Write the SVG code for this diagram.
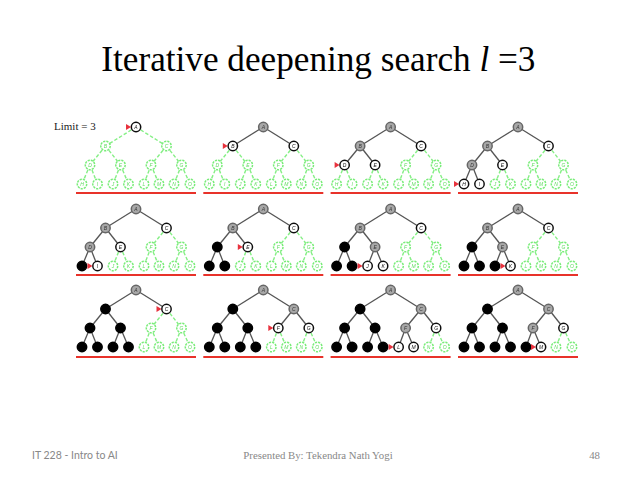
<svg xmlns="http://www.w3.org/2000/svg" width="638" height="478" viewBox="0 0 638 478">
<style>
.bg{fill:#fff}
.title{font:35.2px "Liberation Serif",serif;fill:#000}
.lim{font:11px "Liberation Serif",serif;fill:#222}
.fl{font:10.5px Lato,"Liberation Sans",sans-serif;fill:#888}
.fs{font:10.8px "Liberation Serif",serif;fill:#888}
.tree{filter:url(#soft)}
.tree text{font:italic 5px "Liberation Sans",sans-serif;text-anchor:middle}
.tree circle{stroke-width:1.5;r:4.7px}
.f circle{fill:#fff;stroke:#111}.f text{fill:#111}
.g circle{fill:#a8a8a8;stroke:#666}.g text{fill:#333}
.x circle{fill:#000;stroke:#000}
.u circle{fill:#fff;stroke:#79ec79;stroke-dasharray:2.2 1}.u text{fill:#5fdc5f}
.s{stroke:#555;stroke-width:1.3;fill:none}
.d{stroke:#85ef85;stroke-width:1.4;stroke-dasharray:3.5 2;fill:none}
.floor{stroke:#e8302c;stroke-width:1.8}
.pt{fill:#e8303c}
</style>
<defs>
<filter id="soft" x="-5%" y="-5%" width="110%" height="110%"><feGaussianBlur stdDeviation="0.4"/></filter>
<line id="AB" x2="-30.5" y2="19"/><line id="AC" x2="30.5" y2="19"/>
<line id="BD" x1="-30.5" y1="19" x2="-46" y2="38"/><line id="BE" x1="-30.5" y1="19" x2="-15.5" y2="38"/>
<line id="CF" x1="30.5" y1="19" x2="15" y2="38"/><line id="CG" x1="30.5" y1="19" x2="45.5" y2="38"/>
<line id="DH" x1="-46" y1="38" x2="-54" y2="57"/><line id="DI" x1="-46" y1="38" x2="-38.5" y2="57"/>
<line id="EJ" x1="-15.5" y1="38" x2="-23" y2="57"/><line id="EK" x1="-15.5" y1="38" x2="-7.5" y2="57"/>
<line id="FL" x1="15" y1="38" x2="8" y2="57"/><line id="FM" x1="15" y1="38" x2="23" y2="57"/>
<line id="GN" x1="45.5" y1="38" x2="38" y2="57"/><line id="GO" x1="45.5" y1="38" x2="54" y2="57"/>
<path id="pt" class="pt" d="M-10 -3L-5 0L-10 3Z"/>
</defs>
<rect class="bg" width="638" height="478"/>
<text class="title" x="318.4" y="71" text-anchor="middle">Iterative deepening search <tspan font-style="italic">l</tspan> =3</text>
<text class="lim" x="54" y="130">Limit = 3</text>

<g id="p1" class="tree" transform="translate(136 127)">
<g id="e1"><use href="#AB" class="d"/><use href="#AC" class="d"/><use href="#BD" class="d"/><use href="#BE" class="d"/><use href="#CF" class="d"/><use href="#CG" class="d"/><use href="#DH" class="d"/><use href="#DI" class="d"/><use href="#EJ" class="d"/><use href="#EK" class="d"/><use href="#FL" class="d"/><use href="#FM" class="d"/><use href="#GN" class="d"/><use href="#GO" class="d"/></g>
<g id="p1A" class="f"><circle r="4.5"/><text y="1.6">A</text><use href="#pt"/></g>
<g id="p1B" class="u" transform="translate(-30.5 19)"><circle r="4.5"/><text y="1.6">B</text></g>
<g id="p1C" class="u" transform="translate(30.5 19)"><circle r="4.5"/><text y="1.6">C</text></g>
<g id="p1D" class="u" transform="translate(-46 38)"><circle r="4.5"/><text y="1.6">D</text></g>
<g id="p1E" class="u" transform="translate(-15.5 38)"><circle r="4.5"/><text y="1.6">E</text></g>
<g id="p1F" class="u" transform="translate(15 38)"><circle r="4.5"/><text y="1.6">F</text></g>
<g id="p1G" class="u" transform="translate(45.5 38)"><circle r="4.5"/><text y="1.6">G</text></g>
<g id="p1H" class="u" transform="translate(-54 57)"><circle r="4.5"/><text y="1.6">H</text></g>
<g id="p1I" class="u" transform="translate(-38.5 57)"><circle r="4.5"/><text y="1.6">I</text></g>
<g id="p1J" class="u" transform="translate(-23 57)"><circle r="4.5"/><text y="1.6">J</text></g>
<g id="p1K" class="u" transform="translate(-7.5 57)"><circle r="4.5"/><text y="1.6">K</text></g>
<g id="p1L" class="u" transform="translate(8 57)"><circle r="4.5"/><text y="1.6">L</text></g>
<g id="p1M" class="u" transform="translate(23 57)"><circle r="4.5"/><text y="1.6">M</text></g>
<g id="p1N" class="u" transform="translate(38 57)"><circle r="4.5"/><text y="1.6">N</text></g>
<g id="p1O" class="u" transform="translate(54 57)"><circle r="4.5"/><text y="1.6">O</text></g>
<line class="floor" x1="-60" y1="66" x2="60" y2="66"/>
</g>

<g id="p2" class="tree" transform="translate(263.3 127)">
<g id="e2"><use href="#AB" class="s"/><use href="#AC" class="s"/><use href="#BD" class="d"/><use href="#BE" class="d"/><use href="#CF" class="d"/><use href="#CG" class="d"/><use href="#DH" class="d"/><use href="#DI" class="d"/><use href="#EJ" class="d"/><use href="#EK" class="d"/><use href="#FL" class="d"/><use href="#FM" class="d"/><use href="#GN" class="d"/><use href="#GO" class="d"/></g>
<g id="p2A" class="g"><circle r="4.5"/><text y="1.6">A</text></g>
<g id="p2B" class="f" transform="translate(-30.5 19)"><circle r="4.5"/><text y="1.6">B</text><use href="#pt"/></g>
<g id="p2C" class="f" transform="translate(30.5 19)"><circle r="4.5"/><text y="1.6">C</text></g>
<g id="p2D" class="u" transform="translate(-46 38)"><circle r="4.5"/><text y="1.6">D</text></g>
<g id="p2E" class="u" transform="translate(-15.5 38)"><circle r="4.5"/><text y="1.6">E</text></g>
<g id="p2F" class="u" transform="translate(15 38)"><circle r="4.5"/><text y="1.6">F</text></g>
<g id="p2G" class="u" transform="translate(45.5 38)"><circle r="4.5"/><text y="1.6">G</text></g>
<g id="p2H" class="u" transform="translate(-54 57)"><circle r="4.5"/><text y="1.6">H</text></g>
<g id="p2I" class="u" transform="translate(-38.5 57)"><circle r="4.5"/><text y="1.6">I</text></g>
<g id="p2J" class="u" transform="translate(-23 57)"><circle r="4.5"/><text y="1.6">J</text></g>
<g id="p2K" class="u" transform="translate(-7.5 57)"><circle r="4.5"/><text y="1.6">K</text></g>
<g id="p2L" class="u" transform="translate(8 57)"><circle r="4.5"/><text y="1.6">L</text></g>
<g id="p2M" class="u" transform="translate(23 57)"><circle r="4.5"/><text y="1.6">M</text></g>
<g id="p2N" class="u" transform="translate(38 57)"><circle r="4.5"/><text y="1.6">N</text></g>
<g id="p2O" class="u" transform="translate(54 57)"><circle r="4.5"/><text y="1.6">O</text></g>
<line class="floor" x1="-60" y1="66" x2="60" y2="66"/>
</g>

<g id="p3" class="tree" transform="translate(390.6 127)">
<g id="e3"><use href="#AB" class="s"/><use href="#AC" class="s"/><use href="#BD" class="s"/><use href="#BE" class="s"/><use href="#CF" class="d"/><use href="#CG" class="d"/><use href="#DH" class="d"/><use href="#DI" class="d"/><use href="#EJ" class="d"/><use href="#EK" class="d"/><use href="#FL" class="d"/><use href="#FM" class="d"/><use href="#GN" class="d"/><use href="#GO" class="d"/></g>
<g id="p3A" class="g"><circle r="4.5"/><text y="1.6">A</text></g>
<g id="p3B" class="g" transform="translate(-30.5 19)"><circle r="4.5"/><text y="1.6">B</text></g>
<g id="p3C" class="f" transform="translate(30.5 19)"><circle r="4.5"/><text y="1.6">C</text></g>
<g id="p3D" class="f" transform="translate(-46 38)"><circle r="4.5"/><text y="1.6">D</text><use href="#pt"/></g>
<g id="p3E" class="f" transform="translate(-15.5 38)"><circle r="4.5"/><text y="1.6">E</text></g>
<g id="p3F" class="u" transform="translate(15 38)"><circle r="4.5"/><text y="1.6">F</text></g>
<g id="p3G" class="u" transform="translate(45.5 38)"><circle r="4.5"/><text y="1.6">G</text></g>
<g id="p3H" class="u" transform="translate(-54 57)"><circle r="4.5"/><text y="1.6">H</text></g>
<g id="p3I" class="u" transform="translate(-38.5 57)"><circle r="4.5"/><text y="1.6">I</text></g>
<g id="p3J" class="u" transform="translate(-23 57)"><circle r="4.5"/><text y="1.6">J</text></g>
<g id="p3K" class="u" transform="translate(-7.5 57)"><circle r="4.5"/><text y="1.6">K</text></g>
<g id="p3L" class="u" transform="translate(8 57)"><circle r="4.5"/><text y="1.6">L</text></g>
<g id="p3M" class="u" transform="translate(23 57)"><circle r="4.5"/><text y="1.6">M</text></g>
<g id="p3N" class="u" transform="translate(38 57)"><circle r="4.5"/><text y="1.6">N</text></g>
<g id="p3O" class="u" transform="translate(54 57)"><circle r="4.5"/><text y="1.6">O</text></g>
<line class="floor" x1="-60" y1="66" x2="60" y2="66"/>
</g>

<g id="p4" class="tree" transform="translate(518 127)">
<g id="e4"><use href="#AB" class="s"/><use href="#AC" class="s"/><use href="#BD" class="s"/><use href="#BE" class="s"/><use href="#CF" class="d"/><use href="#CG" class="d"/><use href="#DH" class="s"/><use href="#DI" class="s"/><use href="#EJ" class="d"/><use href="#EK" class="d"/><use href="#FL" class="d"/><use href="#FM" class="d"/><use href="#GN" class="d"/><use href="#GO" class="d"/></g>
<g id="p4A" class="g"><circle r="4.5"/><text y="1.6">A</text></g>
<g id="p4B" class="g" transform="translate(-30.5 19)"><circle r="4.5"/><text y="1.6">B</text></g>
<g id="p4C" class="f" transform="translate(30.5 19)"><circle r="4.5"/><text y="1.6">C</text></g>
<g id="p4D" class="g" transform="translate(-46 38)"><circle r="4.5"/><text y="1.6">D</text></g>
<g id="p4E" class="f" transform="translate(-15.5 38)"><circle r="4.5"/><text y="1.6">E</text></g>
<g id="p4F" class="u" transform="translate(15 38)"><circle r="4.5"/><text y="1.6">F</text></g>
<g id="p4G" class="u" transform="translate(45.5 38)"><circle r="4.5"/><text y="1.6">G</text></g>
<g id="p4H" class="f" transform="translate(-54 57)"><circle r="4.5"/><text y="1.6">H</text><use href="#pt"/></g>
<g id="p4I" class="f" transform="translate(-38.5 57)"><circle r="4.5"/><text y="1.6">I</text></g>
<g id="p4J" class="u" transform="translate(-23 57)"><circle r="4.5"/><text y="1.6">J</text></g>
<g id="p4K" class="u" transform="translate(-7.5 57)"><circle r="4.5"/><text y="1.6">K</text></g>
<g id="p4L" class="u" transform="translate(8 57)"><circle r="4.5"/><text y="1.6">L</text></g>
<g id="p4M" class="u" transform="translate(23 57)"><circle r="4.5"/><text y="1.6">M</text></g>
<g id="p4N" class="u" transform="translate(38 57)"><circle r="4.5"/><text y="1.6">N</text></g>
<g id="p4O" class="u" transform="translate(54 57)"><circle r="4.5"/><text y="1.6">O</text></g>
<line class="floor" x1="-60" y1="66" x2="60" y2="66"/>
</g>

<g id="p5" class="tree" transform="translate(136 209)">
<g id="e5"><use href="#AB" class="s"/><use href="#AC" class="s"/><use href="#BD" class="s"/><use href="#BE" class="s"/><use href="#CF" class="d"/><use href="#CG" class="d"/><use href="#DH" class="s"/><use href="#DI" class="s"/><use href="#EJ" class="d"/><use href="#EK" class="d"/><use href="#FL" class="d"/><use href="#FM" class="d"/><use href="#GN" class="d"/><use href="#GO" class="d"/></g>
<g id="p5A" class="g"><circle r="4.5"/><text y="1.6">A</text></g>
<g id="p5B" class="g" transform="translate(-30.5 19)"><circle r="4.5"/><text y="1.6">B</text></g>
<g id="p5C" class="f" transform="translate(30.5 19)"><circle r="4.5"/><text y="1.6">C</text></g>
<g id="p5D" class="g" transform="translate(-46 38)"><circle r="4.5"/><text y="1.6">D</text></g>
<g id="p5E" class="f" transform="translate(-15.5 38)"><circle r="4.5"/><text y="1.6">E</text></g>
<g id="p5F" class="u" transform="translate(15 38)"><circle r="4.5"/><text y="1.6">F</text></g>
<g id="p5G" class="u" transform="translate(45.5 38)"><circle r="4.5"/><text y="1.6">G</text></g>
<g id="p5H" class="x" transform="translate(-54 57)"><circle r="4.5"/></g>
<g id="p5I" class="f" transform="translate(-38.5 57)"><circle r="4.5"/><text y="1.6">I</text><use href="#pt"/></g>
<g id="p5J" class="u" transform="translate(-23 57)"><circle r="4.5"/><text y="1.6">J</text></g>
<g id="p5K" class="u" transform="translate(-7.5 57)"><circle r="4.5"/><text y="1.6">K</text></g>
<g id="p5L" class="u" transform="translate(8 57)"><circle r="4.5"/><text y="1.6">L</text></g>
<g id="p5M" class="u" transform="translate(23 57)"><circle r="4.5"/><text y="1.6">M</text></g>
<g id="p5N" class="u" transform="translate(38 57)"><circle r="4.5"/><text y="1.6">N</text></g>
<g id="p5O" class="u" transform="translate(54 57)"><circle r="4.5"/><text y="1.6">O</text></g>
<line class="floor" x1="-60" y1="66" x2="60" y2="66"/>
</g>

<g id="p6" class="tree" transform="translate(263.3 209)">
<g id="e6"><use href="#AB" class="s"/><use href="#AC" class="s"/><use href="#BD" class="s"/><use href="#BE" class="s"/><use href="#CF" class="d"/><use href="#CG" class="d"/><use href="#DH" class="s"/><use href="#DI" class="s"/><use href="#EJ" class="d"/><use href="#EK" class="d"/><use href="#FL" class="d"/><use href="#FM" class="d"/><use href="#GN" class="d"/><use href="#GO" class="d"/></g>
<g id="p6A" class="g"><circle r="4.5"/><text y="1.6">A</text></g>
<g id="p6B" class="g" transform="translate(-30.5 19)"><circle r="4.5"/><text y="1.6">B</text></g>
<g id="p6C" class="f" transform="translate(30.5 19)"><circle r="4.5"/><text y="1.6">C</text></g>
<g id="p6D" class="x" transform="translate(-46 38)"><circle r="4.5"/></g>
<g id="p6E" class="f" transform="translate(-15.5 38)"><circle r="4.5"/><text y="1.6">E</text><use href="#pt"/></g>
<g id="p6F" class="u" transform="translate(15 38)"><circle r="4.5"/><text y="1.6">F</text></g>
<g id="p6G" class="u" transform="translate(45.5 38)"><circle r="4.5"/><text y="1.6">G</text></g>
<g id="p6H" class="x" transform="translate(-54 57)"><circle r="4.5"/></g>
<g id="p6I" class="x" transform="translate(-38.5 57)"><circle r="4.5"/></g>
<g id="p6J" class="u" transform="translate(-23 57)"><circle r="4.5"/><text y="1.6">J</text></g>
<g id="p6K" class="u" transform="translate(-7.5 57)"><circle r="4.5"/><text y="1.6">K</text></g>
<g id="p6L" class="u" transform="translate(8 57)"><circle r="4.5"/><text y="1.6">L</text></g>
<g id="p6M" class="u" transform="translate(23 57)"><circle r="4.5"/><text y="1.6">M</text></g>
<g id="p6N" class="u" transform="translate(38 57)"><circle r="4.5"/><text y="1.6">N</text></g>
<g id="p6O" class="u" transform="translate(54 57)"><circle r="4.5"/><text y="1.6">O</text></g>
<line class="floor" x1="-60" y1="66" x2="60" y2="66"/>
</g>

<g id="p7" class="tree" transform="translate(390.6 209)">
<g id="e7"><use href="#AB" class="s"/><use href="#AC" class="s"/><use href="#BD" class="s"/><use href="#BE" class="s"/><use href="#CF" class="d"/><use href="#CG" class="d"/><use href="#DH" class="s"/><use href="#DI" class="s"/><use href="#EJ" class="s"/><use href="#EK" class="s"/><use href="#FL" class="d"/><use href="#FM" class="d"/><use href="#GN" class="d"/><use href="#GO" class="d"/></g>
<g id="p7A" class="g"><circle r="4.5"/><text y="1.6">A</text></g>
<g id="p7B" class="g" transform="translate(-30.5 19)"><circle r="4.5"/><text y="1.6">B</text></g>
<g id="p7C" class="f" transform="translate(30.5 19)"><circle r="4.5"/><text y="1.6">C</text></g>
<g id="p7D" class="x" transform="translate(-46 38)"><circle r="4.5"/></g>
<g id="p7E" class="g" transform="translate(-15.5 38)"><circle r="4.5"/><text y="1.6">E</text></g>
<g id="p7F" class="u" transform="translate(15 38)"><circle r="4.5"/><text y="1.6">F</text></g>
<g id="p7G" class="u" transform="translate(45.5 38)"><circle r="4.5"/><text y="1.6">G</text></g>
<g id="p7H" class="x" transform="translate(-54 57)"><circle r="4.5"/></g>
<g id="p7I" class="x" transform="translate(-38.5 57)"><circle r="4.5"/></g>
<g id="p7J" class="f" transform="translate(-23 57)"><circle r="4.5"/><text y="1.6">J</text><use href="#pt"/></g>
<g id="p7K" class="f" transform="translate(-7.5 57)"><circle r="4.5"/><text y="1.6">K</text></g>
<g id="p7L" class="u" transform="translate(8 57)"><circle r="4.5"/><text y="1.6">L</text></g>
<g id="p7M" class="u" transform="translate(23 57)"><circle r="4.5"/><text y="1.6">M</text></g>
<g id="p7N" class="u" transform="translate(38 57)"><circle r="4.5"/><text y="1.6">N</text></g>
<g id="p7O" class="u" transform="translate(54 57)"><circle r="4.5"/><text y="1.6">O</text></g>
<line class="floor" x1="-60" y1="66" x2="60" y2="66"/>
</g>

<g id="p8" class="tree" transform="translate(518 209)">
<g id="e8"><use href="#AB" class="s"/><use href="#AC" class="s"/><use href="#BD" class="s"/><use href="#BE" class="s"/><use href="#CF" class="d"/><use href="#CG" class="d"/><use href="#DH" class="s"/><use href="#DI" class="s"/><use href="#EJ" class="s"/><use href="#EK" class="s"/><use href="#FL" class="d"/><use href="#FM" class="d"/><use href="#GN" class="d"/><use href="#GO" class="d"/></g>
<g id="p8A" class="g"><circle r="4.5"/><text y="1.6">A</text></g>
<g id="p8B" class="g" transform="translate(-30.5 19)"><circle r="4.5"/><text y="1.6">B</text></g>
<g id="p8C" class="f" transform="translate(30.5 19)"><circle r="4.5"/><text y="1.6">C</text></g>
<g id="p8D" class="x" transform="translate(-46 38)"><circle r="4.5"/></g>
<g id="p8E" class="g" transform="translate(-15.5 38)"><circle r="4.5"/><text y="1.6">E</text></g>
<g id="p8F" class="u" transform="translate(15 38)"><circle r="4.5"/><text y="1.6">F</text></g>
<g id="p8G" class="u" transform="translate(45.5 38)"><circle r="4.5"/><text y="1.6">G</text></g>
<g id="p8H" class="x" transform="translate(-54 57)"><circle r="4.5"/></g>
<g id="p8I" class="x" transform="translate(-38.5 57)"><circle r="4.5"/></g>
<g id="p8J" class="x" transform="translate(-23 57)"><circle r="4.5"/></g>
<g id="p8K" class="f" transform="translate(-7.5 57)"><circle r="4.5"/><text y="1.6">K</text><use href="#pt"/></g>
<g id="p8L" class="u" transform="translate(8 57)"><circle r="4.5"/><text y="1.6">L</text></g>
<g id="p8M" class="u" transform="translate(23 57)"><circle r="4.5"/><text y="1.6">M</text></g>
<g id="p8N" class="u" transform="translate(38 57)"><circle r="4.5"/><text y="1.6">N</text></g>
<g id="p8O" class="u" transform="translate(54 57)"><circle r="4.5"/><text y="1.6">O</text></g>
<line class="floor" x1="-60" y1="66" x2="60" y2="66"/>
</g>

<g id="p9" class="tree" transform="translate(136 290)">
<g id="e9"><use href="#AB" class="s"/><use href="#AC" class="s"/><use href="#BD" class="s"/><use href="#BE" class="s"/><use href="#CF" class="d"/><use href="#CG" class="d"/><use href="#DH" class="s"/><use href="#DI" class="s"/><use href="#EJ" class="s"/><use href="#EK" class="s"/><use href="#FL" class="d"/><use href="#FM" class="d"/><use href="#GN" class="d"/><use href="#GO" class="d"/></g>
<g id="p9A" class="g"><circle r="4.5"/><text y="1.6">A</text></g>
<g id="p9B" class="x" transform="translate(-30.5 19)"><circle r="4.5"/></g>
<g id="p9C" class="f" transform="translate(30.5 19)"><circle r="4.5"/><text y="1.6">C</text><use href="#pt"/></g>
<g id="p9D" class="x" transform="translate(-46 38)"><circle r="4.5"/></g>
<g id="p9E" class="x" transform="translate(-15.5 38)"><circle r="4.5"/></g>
<g id="p9F" class="u" transform="translate(15 38)"><circle r="4.5"/><text y="1.6">F</text></g>
<g id="p9G" class="u" transform="translate(45.5 38)"><circle r="4.5"/><text y="1.6">G</text></g>
<g id="p9H" class="x" transform="translate(-54 57)"><circle r="4.5"/></g>
<g id="p9I" class="x" transform="translate(-38.5 57)"><circle r="4.5"/></g>
<g id="p9J" class="x" transform="translate(-23 57)"><circle r="4.5"/></g>
<g id="p9K" class="x" transform="translate(-7.5 57)"><circle r="4.5"/></g>
<g id="p9L" class="u" transform="translate(8 57)"><circle r="4.5"/><text y="1.6">L</text></g>
<g id="p9M" class="u" transform="translate(23 57)"><circle r="4.5"/><text y="1.6">M</text></g>
<g id="p9N" class="u" transform="translate(38 57)"><circle r="4.5"/><text y="1.6">N</text></g>
<g id="p9O" class="u" transform="translate(54 57)"><circle r="4.5"/><text y="1.6">O</text></g>
<line class="floor" x1="-60" y1="67" x2="60" y2="67"/>
</g>

<g id="p10" class="tree" transform="translate(263.3 290)">
<g id="e10"><use href="#AB" class="s"/><use href="#AC" class="s"/><use href="#BD" class="s"/><use href="#BE" class="s"/><use href="#CF" class="s"/><use href="#CG" class="s"/><use href="#DH" class="s"/><use href="#DI" class="s"/><use href="#EJ" class="s"/><use href="#EK" class="s"/><use href="#FL" class="d"/><use href="#FM" class="d"/><use href="#GN" class="d"/><use href="#GO" class="d"/></g>
<g id="p10A" class="g"><circle r="4.5"/><text y="1.6">A</text></g>
<g id="p10B" class="x" transform="translate(-30.5 19)"><circle r="4.5"/></g>
<g id="p10C" class="g" transform="translate(30.5 19)"><circle r="4.5"/><text y="1.6">C</text></g>
<g id="p10D" class="x" transform="translate(-46 38)"><circle r="4.5"/></g>
<g id="p10E" class="x" transform="translate(-15.5 38)"><circle r="4.5"/></g>
<g id="p10F" class="f" transform="translate(15 38)"><circle r="4.5"/><text y="1.6">F</text><use href="#pt"/></g>
<g id="p10G" class="f" transform="translate(45.5 38)"><circle r="4.5"/><text y="1.6">G</text></g>
<g id="p10H" class="x" transform="translate(-54 57)"><circle r="4.5"/></g>
<g id="p10I" class="x" transform="translate(-38.5 57)"><circle r="4.5"/></g>
<g id="p10J" class="x" transform="translate(-23 57)"><circle r="4.5"/></g>
<g id="p10K" class="x" transform="translate(-7.5 57)"><circle r="4.5"/></g>
<g id="p10L" class="u" transform="translate(8 57)"><circle r="4.5"/><text y="1.6">L</text></g>
<g id="p10M" class="u" transform="translate(23 57)"><circle r="4.5"/><text y="1.6">M</text></g>
<g id="p10N" class="u" transform="translate(38 57)"><circle r="4.5"/><text y="1.6">N</text></g>
<g id="p10O" class="u" transform="translate(54 57)"><circle r="4.5"/><text y="1.6">O</text></g>
<line class="floor" x1="-60" y1="67" x2="60" y2="67"/>
</g>

<g id="p11" class="tree" transform="translate(390.6 290)">
<g id="e11"><use href="#AB" class="s"/><use href="#AC" class="s"/><use href="#BD" class="s"/><use href="#BE" class="s"/><use href="#CF" class="s"/><use href="#CG" class="s"/><use href="#DH" class="s"/><use href="#DI" class="s"/><use href="#EJ" class="s"/><use href="#EK" class="s"/><use href="#FL" class="s"/><use href="#FM" class="s"/><use href="#GN" class="d"/><use href="#GO" class="d"/></g>
<g id="p11A" class="g"><circle r="4.5"/><text y="1.6">A</text></g>
<g id="p11B" class="x" transform="translate(-30.5 19)"><circle r="4.5"/></g>
<g id="p11C" class="g" transform="translate(30.5 19)"><circle r="4.5"/><text y="1.6">C</text></g>
<g id="p11D" class="x" transform="translate(-46 38)"><circle r="4.5"/></g>
<g id="p11E" class="x" transform="translate(-15.5 38)"><circle r="4.5"/></g>
<g id="p11F" class="g" transform="translate(15 38)"><circle r="4.5"/><text y="1.6">F</text></g>
<g id="p11G" class="f" transform="translate(45.5 38)"><circle r="4.5"/><text y="1.6">G</text></g>
<g id="p11H" class="x" transform="translate(-54 57)"><circle r="4.5"/></g>
<g id="p11I" class="x" transform="translate(-38.5 57)"><circle r="4.5"/></g>
<g id="p11J" class="x" transform="translate(-23 57)"><circle r="4.5"/></g>
<g id="p11K" class="x" transform="translate(-7.5 57)"><circle r="4.5"/></g>
<g id="p11L" class="f" transform="translate(8 57)"><circle r="4.5"/><text y="1.6">L</text><use href="#pt"/></g>
<g id="p11M" class="f" transform="translate(23 57)"><circle r="4.5"/><text y="1.6">M</text></g>
<g id="p11N" class="u" transform="translate(38 57)"><circle r="4.5"/><text y="1.6">N</text></g>
<g id="p11O" class="u" transform="translate(54 57)"><circle r="4.5"/><text y="1.6">O</text></g>
<line class="floor" x1="-60" y1="67" x2="60" y2="67"/>
</g>

<g id="p12" class="tree" transform="translate(518 290)">
<g id="e12"><use href="#AB" class="s"/><use href="#AC" class="s"/><use href="#BD" class="s"/><use href="#BE" class="s"/><use href="#CF" class="s"/><use href="#CG" class="s"/><use href="#DH" class="s"/><use href="#DI" class="s"/><use href="#EJ" class="s"/><use href="#EK" class="s"/><use href="#FL" class="s"/><use href="#FM" class="s"/><use href="#GN" class="d"/><use href="#GO" class="d"/></g>
<g id="p12A" class="g"><circle r="4.5"/><text y="1.6">A</text></g>
<g id="p12B" class="x" transform="translate(-30.5 19)"><circle r="4.5"/></g>
<g id="p12C" class="g" transform="translate(30.5 19)"><circle r="4.5"/><text y="1.6">C</text></g>
<g id="p12D" class="x" transform="translate(-46 38)"><circle r="4.5"/></g>
<g id="p12E" class="x" transform="translate(-15.5 38)"><circle r="4.5"/></g>
<g id="p12F" class="g" transform="translate(15 38)"><circle r="4.5"/><text y="1.6">F</text></g>
<g id="p12G" class="f" transform="translate(45.5 38)"><circle r="4.5"/><text y="1.6">G</text></g>
<g id="p12H" class="x" transform="translate(-54 57)"><circle r="4.5"/></g>
<g id="p12I" class="x" transform="translate(-38.5 57)"><circle r="4.5"/></g>
<g id="p12J" class="x" transform="translate(-23 57)"><circle r="4.5"/></g>
<g id="p12K" class="x" transform="translate(-7.5 57)"><circle r="4.5"/></g>
<g id="p12L" class="x" transform="translate(8 57)"><circle r="4.5"/></g>
<g id="p12M" class="f" transform="translate(23 57)"><circle r="4.5"/><text y="1.6">M</text><use href="#pt"/></g>
<g id="p12N" class="u" transform="translate(38 57)"><circle r="4.5"/><text y="1.6">N</text></g>
<g id="p12O" class="u" transform="translate(54 57)"><circle r="4.5"/><text y="1.6">O</text></g>
<line class="floor" x1="-60" y1="67" x2="60" y2="67"/>
</g>

<text class="fl" x="32" y="459">IT 228 - Intro to AI</text>
<text class="fs" x="318" y="459" text-anchor="middle">Presented By: Tekendra Nath Yogi</text>
<text class="fs" x="600" y="459" text-anchor="end">48</text>
</svg>
